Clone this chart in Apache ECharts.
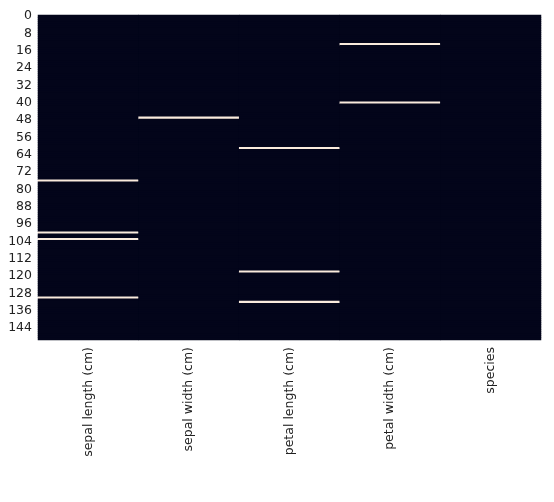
<!DOCTYPE html>
<html><head><meta charset="utf-8">
<script src="https://cdn.jsdelivr.net/npm/echarts@6/dist/echarts.min.js"></script>
<style>html,body{margin:0;padding:0;background:#fff}#c{width:554px;height:502px}</style>
</head><body><div id="c"></div>
<script>
const columns = ['sepal length (cm)','sepal width (cm)','petal length (cm)','petal width (cm)','species'];
const rowCount = 150;
const missingSepalLength = [76, 100, 103, 130];
const missingSepalWidth = [47];
const missingPetalLength = [61, 118, 132];
const missingPetalWidth = [13, 40];
const missingSpecies = [];
const missing = [missingSepalLength, missingSepalWidth, missingPetalLength, missingPetalWidth, missingSpecies];
const rows = Array.from({length: rowCount}, (_, i) => String(i));
const data = [];
missing.forEach((list, c) => { for (let r = 0; r < rowCount; r++) data.push([c, r, list.includes(r) ? 1 : 0]); });
const chart = echarts.init(document.getElementById('c'));
chart.setOption({
  animation: false,
  grid: {left: 38, right: 13, top: 15, bottom: 162, show: true, backgroundColor: '#03051A', borderWidth: 0},
  xAxis: {type: 'category', data: columns, axisLine: {show: false}, splitLine: {show: false}, splitArea: {show: false},
    axisTick: {alignWithLabel: true, length: 4, lineStyle: {color: '#333'}},
    axisLabel: {rotate: 90, color: '#222', fontFamily: 'DejaVu Sans', fontSize: 12.5, margin: 7}},
  yAxis: {type: 'category', data: rows, inverse: true, axisLine: {show: false}, splitLine: {show: false}, splitArea: {show: false},
    axisTick: {alignWithLabel: true, interval: 7, length: 4, lineStyle: {color: '#333'}},
    axisLabel: {interval: 7, color: '#222', fontFamily: 'DejaVu Sans', fontSize: 12.5, margin: 6}},
  visualMap: {show: false, type: 'piecewise', dimension: 2,
    pieces: [{value: 0, color: '#03051A'}, {value: 1, color: '#FAEBDD'}]},
  series: [{type: 'heatmap', data: data, itemStyle: {borderWidth: 0}}]
});
</script></body></html>
